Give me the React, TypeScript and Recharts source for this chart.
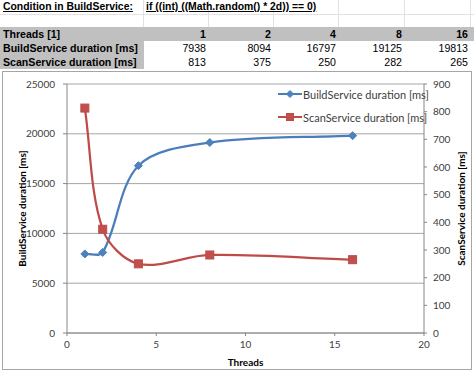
import React from 'react'
import { LineChart, Line, XAxis, YAxis, CartesianGrid, Legend } from 'recharts'

const threads = [1, 2, 4, 8, 16]
const buildDuration = [7938, 8094, 16797, 19125, 19813]
const scanDuration = [813, 375, 250, 282, 265]
const xTicks = [0, 5, 10, 15, 20]
const leftTicks = [0, 5000, 10000, 15000, 20000, 25000]
const rightTicks = [0, 100, 200, 300, 400, 500, 600, 700, 800, 900]
const buildLabel = 'BuildService duration [ms]'
const scanLabel = 'ScanService duration [ms]'

const chartData = threads.map((t, i) => ({
    threads: t,
    build: buildDuration[i],
    scan: scanDuration[i],
}))

const BLUE = '#4a7ebb'
const RED = '#be4b48'
const chartFont = 'Lato, "Open Sans", sans-serif'
const tableFont = '"Liberation Sans", Arial, sans-serif'

// excel style smoothed line: bezier, tangents scaled by chord lengths
const excelSmooth = (context: any) => {
    let pts: number[][] = []
    const dist = (a: number[], b: number[]) => Math.hypot(b[0] - a[0], b[1] - a[1])
    return {
        areaStart() {},
        areaEnd() {},
        lineStart() {
            pts = []
        },
        point(x: number, y: number) {
            pts.push([+x, +y])
        },
        lineEnd() {
            if (!pts.length) return
            context.moveTo(pts[0][0], pts[0][1])
            for (let i = 0; i < pts.length - 1; i++) {
                const p0 = pts[i - 1] || pts[i]
                const p1 = pts[i]
                const p2 = pts[i + 1]
                const p3 = pts[i + 2] || pts[i + 1]
                const d01 = dist(p0, p1)
                const d12 = dist(p1, p2)
                const d23 = dist(p2, p3)
                const f1 = d01 + d12 > 0 ? d12 / (d01 + d12) / 3 : 0
                const f2 = d12 + d23 > 0 ? d12 / (d12 + d23) / 3 : 0
                context.bezierCurveTo(
                    p1[0] + (p2[0] - p0[0]) * f1,
                    p1[1] + (p2[1] - p0[1]) * f1,
                    p2[0] - (p3[0] - p1[0]) * f2,
                    p2[1] - (p3[1] - p1[1]) * f2,
                    p2[0],
                    p2[1]
                )
            }
        },
    }
}

const diamond = (cx: number, cy: number, r: number) =>
    `M${cx},${cy - r}L${cx + r},${cy}L${cx},${cy + r}L${cx - r},${cy}Z`

const DiamondDot = (props: any) => {
    const { cx, cy, index } = props
    if (cx == null || cy == null) return <g key={`bd-${index}`} />
    return <path key={`bd-${index}`} d={diamond(cx, cy, 4)} fill="#4f81bd" stroke={BLUE} strokeWidth={1} />
}

const SquareDot = (props: any) => {
    const { cx, cy, index } = props
    if (cx == null || cy == null) return <g key={`sd-${index}`} />
    return <rect key={`sd-${index}`} x={cx - 4} y={cy - 4} width={8} height={8} fill="#c0504d" stroke={RED} strokeWidth={1} />
}

const legendItems = [
    { label: buildLabel, color: BLUE, shape: 'diamond' },
    { label: scanLabel, color: RED, shape: 'square' },
]

const renderLegend = () => (
    <div style={{ fontFamily: chartFont, fontSize: 11, color: '#404040' }}>
        {legendItems.map((item) => (
            <div key={item.label} style={{ display: 'flex', alignItems: 'center', height: 14, marginBottom: 9 }}>
                <svg width={24} height={10} style={{ marginRight: 1 }}>
                    <line x1={0} y1={5} x2={24} y2={5} stroke={item.color} strokeWidth={2} />
                    {item.shape === 'diamond' ? (
                        <path d={diamond(12, 5, 3.5)} fill="#4f81bd" stroke={BLUE} />
                    ) : (
                        <rect x={8.5} y={1.5} width={7} height={7} fill="#c0504d" stroke={RED} />
                    )}
                </svg>
                <span>{item.label}</span>
            </div>
        ))}
    </div>
)

const colEdges = [143, 208, 273, 338, 404, 470]

const Table = () => {
    const cell = (text: string | number, left: number, top: number, width: number, bold: boolean, align: 'left' | 'right') => (
        <div
            style={{
                position: 'absolute',
                left,
                top,
                width,
                height: 14,
                lineHeight: '14px',
                fontFamily: tableFont,
                fontSize: 10.6,
                fontWeight: bold ? 'bold' : 'normal',
                textAlign: align,
                whiteSpace: 'nowrap',
            }}
        >
            {text}
        </div>
    )
    const rows = [
        { label: 'Threads [1]', values: threads, top: 27, header: true },
        { label: buildLabel, values: buildDuration, top: 41, header: false },
        { label: scanLabel, values: scanDuration, top: 55, header: false },
    ]
    const titleStyle: React.CSSProperties = {
        position: 'absolute',
        top: 0,
        fontFamily: tableFont,
        fontSize: 10.4,
        fontWeight: 'bold',
        textDecoration: 'underline',
        lineHeight: '14px',
        whiteSpace: 'nowrap',
    }
    return (
        <>
            {/* faint sheet grid */}
            {colEdges.map((x) => (
                <div key={`gc-${x}`} style={{ position: 'absolute', left: x, top: 0, width: 1, height: 27, background: '#e2e2e2' }} />
            ))}
            <div style={{ position: 'absolute', left: 0, top: 14, width: 474, height: 1, background: '#e2e2e2' }} />
            <div style={{ ...titleStyle, left: 3 }}>Condition in BuildService:</div>
            <div style={{ ...titleStyle, left: 146 }}>{'if ((int) ((Math.random() * 2d)) == 0)'}</div>
            <div style={{ position: 'absolute', left: 0, top: 27, width: 474, height: 14, background: '#c0c0c0' }} />
            <div style={{ position: 'absolute', left: 0, top: 41, width: 144, height: 28, background: '#c0c0c0' }} />
            {rows.map((r) => (
                <React.Fragment key={r.label}>
                    {cell(r.label, 3, r.top, 140, true, 'left')}
                    {r.values.map((v, i) => cell(v, colEdges[i], r.top, colEdges[i + 1] ? colEdges[i + 1] - colEdges[i] - 2 : 0, r.header, 'right'))}
                </React.Fragment>
            ))}
        </>
    )
}

export default function App() {
    return (
        <div style={{ position: 'fixed', left: 0, top: 0, width: 474, height: 372, background: '#fff', overflow: 'hidden' }}>
            <Table />
            <div
                style={{
                    position: 'absolute',
                    left: 2,
                    top: 71,
                    width: 468,
                    height: 297,
                    border: '1px solid #a6a6a6',
                    background: '#fff',
                }}
            >
                <LineChart width={468} height={297} data={chartData} margin={{ top: 12, right: 0, bottom: 0, left: 0 }}>
                    <CartesianGrid yAxisId="left" vertical={false} stroke="#a6a6a6" />
                    <XAxis
                        dataKey="threads"
                        type="number"
                        domain={[0, 20]}
                        ticks={xTicks}
                        height={36}
                        tickSize={3}
                        tickMargin={5}
                        stroke="#868686"
                        tick={{ fill: '#404040', fontSize: 10, fontFamily: chartFont }}
                        label={{
                            value: 'Threads',
                            position: 'center',
                            dy: 11,
                            fill: '#000',
                            fontSize: 10,
                            fontWeight: 'bold',
                            fontFamily: chartFont,
                        }}
                    />
                    <YAxis
                        yAxisId="left"
                        domain={[0, 25000]}
                        ticks={leftTicks}
                        width={64}
                        tickSize={4}
                        tickMargin={8}
                        stroke="#868686"
                        tick={{ fill: '#404040', fontSize: 10, fontFamily: chartFont }}
                        label={{
                            value: buildLabel,
                            angle: -90,
                            position: 'center',
                            dx: -13,
                            fill: '#000',
                            fontSize: 10,
                            fontWeight: 'bold',
                            fontFamily: chartFont,
                        }}
                    />
                    <YAxis
                        yAxisId="right"
                        orientation="right"
                        domain={[0, 900]}
                        ticks={rightTicks}
                        width={47}
                        tickSize={3}
                        tickMargin={6}
                        stroke="#868686"
                        tick={{ fill: '#404040', fontSize: 10, fontFamily: chartFont }}
                        label={{
                            value: scanLabel,
                            angle: -90,
                            position: 'center',
                            dx: 14,
                            fill: '#000',
                            fontSize: 10,
                            fontWeight: 'bold',
                            fontFamily: chartFont,
                        }}
                    />
                    <Legend
                        layout="vertical"
                        align="center"
                        verticalAlign="middle"
                        content={renderLegend}
                        wrapperStyle={{ position: 'absolute', left: 275, top: 15, width: 'auto' }}
                    />
                    <Line
                        yAxisId="left"
                        dataKey="build"
                        name={buildLabel}
                        type={excelSmooth as any}
                        stroke={BLUE}
                        strokeWidth={2.25}
                        dot={DiamondDot}
                        activeDot={false}
                        isAnimationActive={false}
                    />
                    <Line
                        yAxisId="right"
                        dataKey="scan"
                        name={scanLabel}
                        type={excelSmooth as any}
                        stroke={RED}
                        strokeWidth={2.25}
                        dot={SquareDot}
                        activeDot={false}
                        isAnimationActive={false}
                    />
                </LineChart>
            </div>
        </div>
    )
}
